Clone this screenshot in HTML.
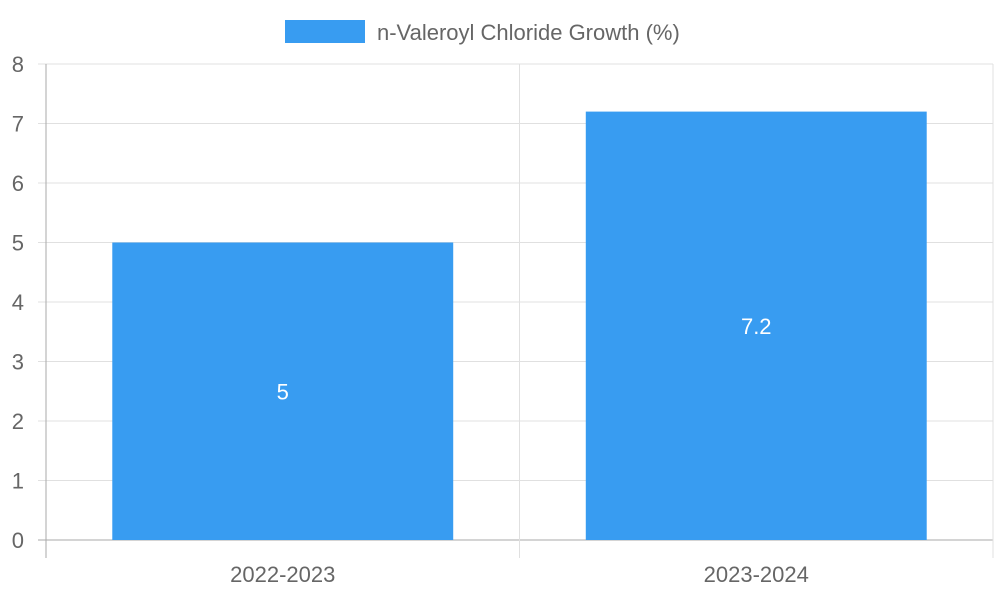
<!DOCTYPE html>
<html><head><meta charset="utf-8"><style>
body{margin:0;background:#fff;}
svg{display:block;font-family:"Liberation Sans",sans-serif;}
</style></head><body>
<svg id="chart" width="1000" height="600">
<g id="legend">
<rect x="285" y="20" width="80" height="23" fill="#389cf1"/>
<text x="377" y="40" font-size="22" fill="#666">n-Valeroyl Chloride Growth (%)</text>
</g>
<g id="grid"></g>
<g id="bars"></g>
<g id="axes"></g>
</svg>
<script>
const categories = ["2022-2023", "2023-2024"];
const values = [5, 7.2];
const yTicks = [0, 1, 2, 3, 4, 5, 6, 7, 8];
const NS = "http://www.w3.org/2000/svg";
const L = 46, R = 993, T = 64, B = 540, yMax = 8;
const y = v => B - (v / yMax) * (B - T);
const catW = (R - L) / categories.length;
const x = i => L + catW * i;
function mk(tag, attrs, parent, txt) {
  const e = document.createElementNS(NS, tag);
  for (const k in attrs) e.setAttribute(k, attrs[k]);
  if (txt !== undefined) e.textContent = txt;
  parent.appendChild(e);
  return e;
}
const grid = document.getElementById("grid"), bars = document.getElementById("bars"), axes = document.getElementById("axes");
yTicks.forEach(t => {
  const ln = mk("line", {x1: 38, x2: R, y1: y(t), y2: y(t), stroke: t === 0 ? "#aaa" : "#e0e0e0", "stroke-width": 1}, grid);
  
  
  const tx = mk("text", {x: 24, y: y(t) + 8, "font-size": 22, fill: "#666", "text-anchor": "end"}, axes, String(t));
  
  
});
for (let i = 0; i <= categories.length; i++) {
  const ln = mk("line", {x1: x(i), x2: x(i), y1: T, y2: 558, stroke: i === 0 ? "#aaa" : "#e0e0e0", "stroke-width": 1}, grid);
  
  
}
categories.forEach((c, i) => {
  const bw = catW * 0.72, bx = x(i) + (catW - bw) / 2;
  const r = mk("rect", {x: bx, y: y(values[i]), width: bw, height: B - y(values[i]), fill: "#389cf1"}, bars);
  
  
  const vl = mk("text", {x: bx + bw / 2, y: (y(values[i]) + B) / 2 + 8, "font-size": 22, fill: "#fff", "text-anchor": "middle"}, bars, String(values[i]));
  
  
  const xl = mk("text", {x: x(i) + catW / 2, y: 582, "font-size": 22, fill: "#666", "text-anchor": "middle"}, axes, c);
  
  
});
</script>
</body></html>
